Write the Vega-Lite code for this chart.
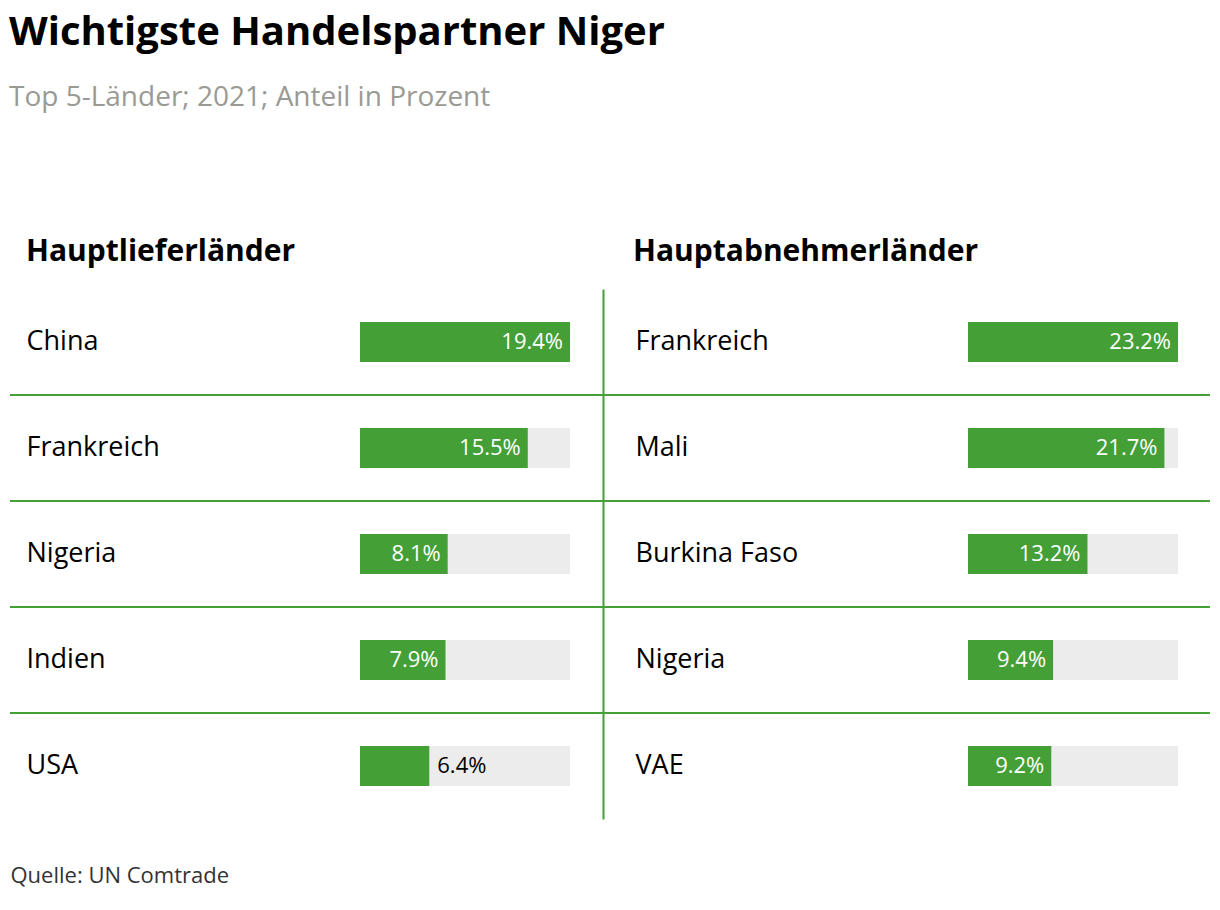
{
  "$schema": "https://vega.github.io/schema/vega-lite/v6.json",
  "background": "white",
  "padding": {"left": 9, "top": 13, "right": 10, "bottom": 10},
  "title": {
    "text": "Wichtigste Handelspartner Niger",
    "subtitle": "Top 5-Länder; 2021; Anteil in Prozent",
    "anchor": "start",
    "fontSize": 40,
    "fontWeight": "bold",
    "color": "#000000",
    "subtitleFontSize": 28,
    "subtitleColor": "#9a9a94",
    "subtitlePadding": 31,
    "offset": 125
  },
  "datasets": {
    "liefer": [
      {"land": "China", "anteil": 0.194, "rang": 1},
      {"land": "Frankreich", "anteil": 0.155, "rang": 2},
      {"land": "Nigeria", "anteil": 0.081, "rang": 3},
      {"land": "Indien", "anteil": 0.079, "rang": 4},
      {"land": "USA", "anteil": 0.064, "rang": 5}
    ],
    "abnehmer": [
      {"land": "Frankreich", "anteil": 0.232, "rang": 1},
      {"land": "Mali", "anteil": 0.217, "rang": 2},
      {"land": "Burkina Faso", "anteil": 0.132, "rang": 3},
      {"land": "Nigeria", "anteil": 0.094, "rang": 4},
      {"land": "VAE", "anteil": 0.092, "rang": 5}
    ]
  },
  "spacing": 0,
  "bounds": "flush",
  "resolve": {"scale": {"x": "independent", "y": "independent"}},
  "hconcat": [
    {
      "width": 593,
      "height": 530,
      "title": {"text": "Hauptlieferländer", "anchor": "start", "dx": 17, "fontSize": 30, "fontWeight": "bold", "color": "#000000", "offset": 22},
      "data": {"name": "liefer"},
      "encoding": {
        "y": {
          "field": "land", "type": "nominal", "sort": null,
          "scale": {"domain": ["China", "Frankreich", "Nigeria", "Indien", "USA"], "paddingInner": 0, "paddingOuter": 0},
          "axis": {"title": null, "domain": false, "ticks": false, "tickSize": 0, "grid": false, "labelAlign": "left", "labelPadding": -16, "labelFontSize": 27, "labelColor": "#000000", "labelLimit": 0}
        }
      },
      "layer": [
        {
          "transform": [{"filter": "datum.rang > 1"}],
          "mark": {"type": "rule", "color": "#449f37", "strokeWidth": 2},
          "encoding": {"y": {"field": "land", "type": "nominal", "bandPosition": 0}}
        },
        {
          "mark": {"type": "bar", "color": "#ececec", "size": 40},
          "encoding": {
            "x": {
              "datum": 0, "type": "quantitative",
              "scale": {"domain": [0, 0.194], "range": [350, 560], "nice": false},
              "axis": {"title": "Quelle: UN Comtrade", "labels": false, "ticks": false, "domain": false, "grid": false, "titleX": 0, "titleAlign": "left", "titleFontSize": 22, "titleFontWeight": "normal", "titleColor": "#333333", "titlePadding": 46}
            },
            "x2": {"datum": 0.194}
          }
        },
        {
          "mark": {"type": "bar", "color": "#449f37", "size": 40},
          "encoding": {"x": {"field": "anteil", "type": "quantitative"}}
        },
        {
          "transform": [{"filter": "datum.anteil >= 0.07"}],
          "mark": {"type": "text", "align": "right", "dx": -7, "fontSize": 22, "color": "#ffffff"},
          "encoding": {"x": {"field": "anteil", "type": "quantitative"}, "text": {"field": "anteil", "type": "quantitative", "format": ".1%"}}
        },
        {
          "transform": [{"filter": "datum.anteil < 0.07"}],
          "mark": {"type": "text", "align": "left", "dx": 8, "fontSize": 22, "color": "#000000"},
          "encoding": {"x": {"field": "anteil", "type": "quantitative"}, "text": {"field": "anteil", "type": "quantitative", "format": ".1%"}}
        }
      ]
    },
    {
      "width": 607,
      "height": 530,
      "title": {"text": "Hauptabnehmerländer", "anchor": "start", "dx": 31, "fontSize": 30, "fontWeight": "bold", "color": "#000000", "offset": 22},
      "data": {"name": "abnehmer"},
      "encoding": {
        "y": {
          "field": "land", "type": "nominal", "sort": null,
          "scale": {"domain": ["Frankreich", "Mali", "Burkina Faso", "Nigeria", "VAE"], "paddingInner": 0, "paddingOuter": 0},
          "axis": {"title": null, "domain": true, "domainColor": "#449f37", "domainWidth": 2, "ticks": false, "tickSize": 0, "grid": false, "labelAlign": "left", "labelPadding": -32, "labelFontSize": 27, "labelColor": "#000000", "labelLimit": 0}
        }
      },
      "layer": [
        {
          "transform": [{"filter": "datum.rang > 1"}],
          "mark": {"type": "rule", "color": "#449f37", "strokeWidth": 2},
          "encoding": {"y": {"field": "land", "type": "nominal", "bandPosition": 0}}
        },
        {
          "mark": {"type": "bar", "color": "#ececec", "size": 40},
          "encoding": {
            "x": {
              "datum": 0, "type": "quantitative",
              "scale": {"domain": [0, 0.232], "range": [365, 575], "nice": false},
              "axis": null
            },
            "x2": {"datum": 0.232}
          }
        },
        {
          "mark": {"type": "bar", "color": "#449f37", "size": 40},
          "encoding": {"x": {"field": "anteil", "type": "quantitative"}}
        },
        {
          "transform": [{"filter": "datum.anteil >= 0.07"}],
          "mark": {"type": "text", "align": "right", "dx": -7, "fontSize": 22, "color": "#ffffff"},
          "encoding": {"x": {"field": "anteil", "type": "quantitative"}, "text": {"field": "anteil", "type": "quantitative", "format": ".1%"}}
        },
        {
          "transform": [{"filter": "datum.anteil < 0.07"}],
          "mark": {"type": "text", "align": "left", "dx": 8, "fontSize": 22, "color": "#000000"},
          "encoding": {"x": {"field": "anteil", "type": "quantitative"}, "text": {"field": "anteil", "type": "quantitative", "format": ".1%"}}
        }
      ]
    }
  ],
  "config": {
    "font": "Open Sans",
    "view": {"stroke": null}
  }
}
